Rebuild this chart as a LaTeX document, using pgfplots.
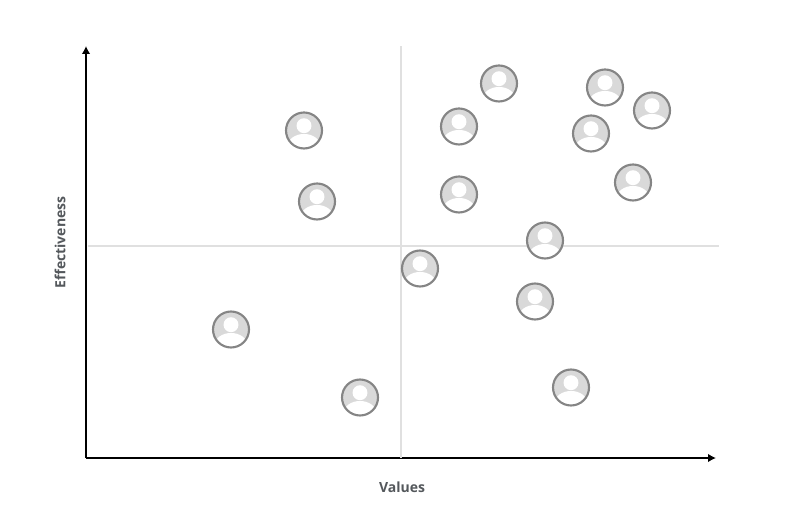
\documentclass[border=0pt]{standalone}
\usepackage{fontspec}
\setmainfont{Open Sans}
\usepackage{pgfplots}
\pgfplotsset{compat=1.18}
\usetikzlibrary{arrows.meta}
\definecolor{ringgray}{HTML}{858585}
\definecolor{facegray}{HTML}{D9D9D9}
\definecolor{gridgray}{HTML}{E0E0E0}
\definecolor{labelgray}{HTML}{54585C}
\pgfdeclareplotmark{user}{%
  \pgfsetfillcolor{facegray}%
  \pgfsetstrokecolor{ringgray}%
  \pgfsetlinewidth{1.6pt}%
  \pgfpathcircle{\pgfpointorigin}{13.5pt}%
  \pgfusepath{fill}%
  \begin{pgfscope}
    \pgfpathcircle{\pgfpointorigin}{13.5pt}%
    \pgfusepath{clip}%
    \pgfsetfillcolor{white}%
    \pgfpathellipse{\pgfqpoint{0pt}{-12.4pt}}{\pgfqpoint{12.6pt}{0pt}}{\pgfqpoint{0pt}{9.8pt}}%
    \pgfusepath{fill}%
  \end{pgfscope}
  \pgfsetfillcolor{white}%
  \pgfpathcircle{\pgfqpoint{0pt}{3.6pt}}{5.6pt}%
  \pgfusepath{fill}%
  \pgfpathcircle{\pgfpointorigin}{13.5pt}%
  \pgfusepath{stroke}%
}
\begin{document}
\begin{tikzpicture}
\path[use as bounding box] (-64.5pt,-52.5pt) rectangle (544.5pt,343.5pt);
\begin{axis}[x=0.75pt, y=0.75pt, at={(0pt,0pt)}, anchor=origin,
  xmin=86, xmax=716, ymin=70, ymax=482,
  axis lines=left, clip=false, ticks=none,
  axis line style={black, line width=1.5pt, -{Latex[length=6pt,width=6.5pt]}},
  xlabel={\textbf{Values}}, ylabel={\textbf{Effectiveness}},
  label style={font=\fontsize{10.5}{12}\selectfont, text=labelgray},
  xlabel style={at={(axis description cs:0.5016,-0.0706)}, anchor=center},
  ylabel style={at={(axis description cs:-0.0413,0.523)}, anchor=center}]
\addplot[gridgray, line width=0.8pt, forget plot] coordinates {(401,70)(401,482)};
\addplot[gridgray, line width=0.8pt, forget plot] coordinates {(88,282)(719,282)};
\addplot[only marks, mark=user] coordinates {
  (304,397.5)(317,326.5)(231,198.5)(360,130.5)(420,259.5)
  (459,401.5)(459,333.5)(499,444.5)(545,287.5)(535,226.5)
  (571,140.5)(591,394.5)(605,440.5)(652,417.5)(633,345.5)};
\end{axis}
\end{tikzpicture}
\end{document}
